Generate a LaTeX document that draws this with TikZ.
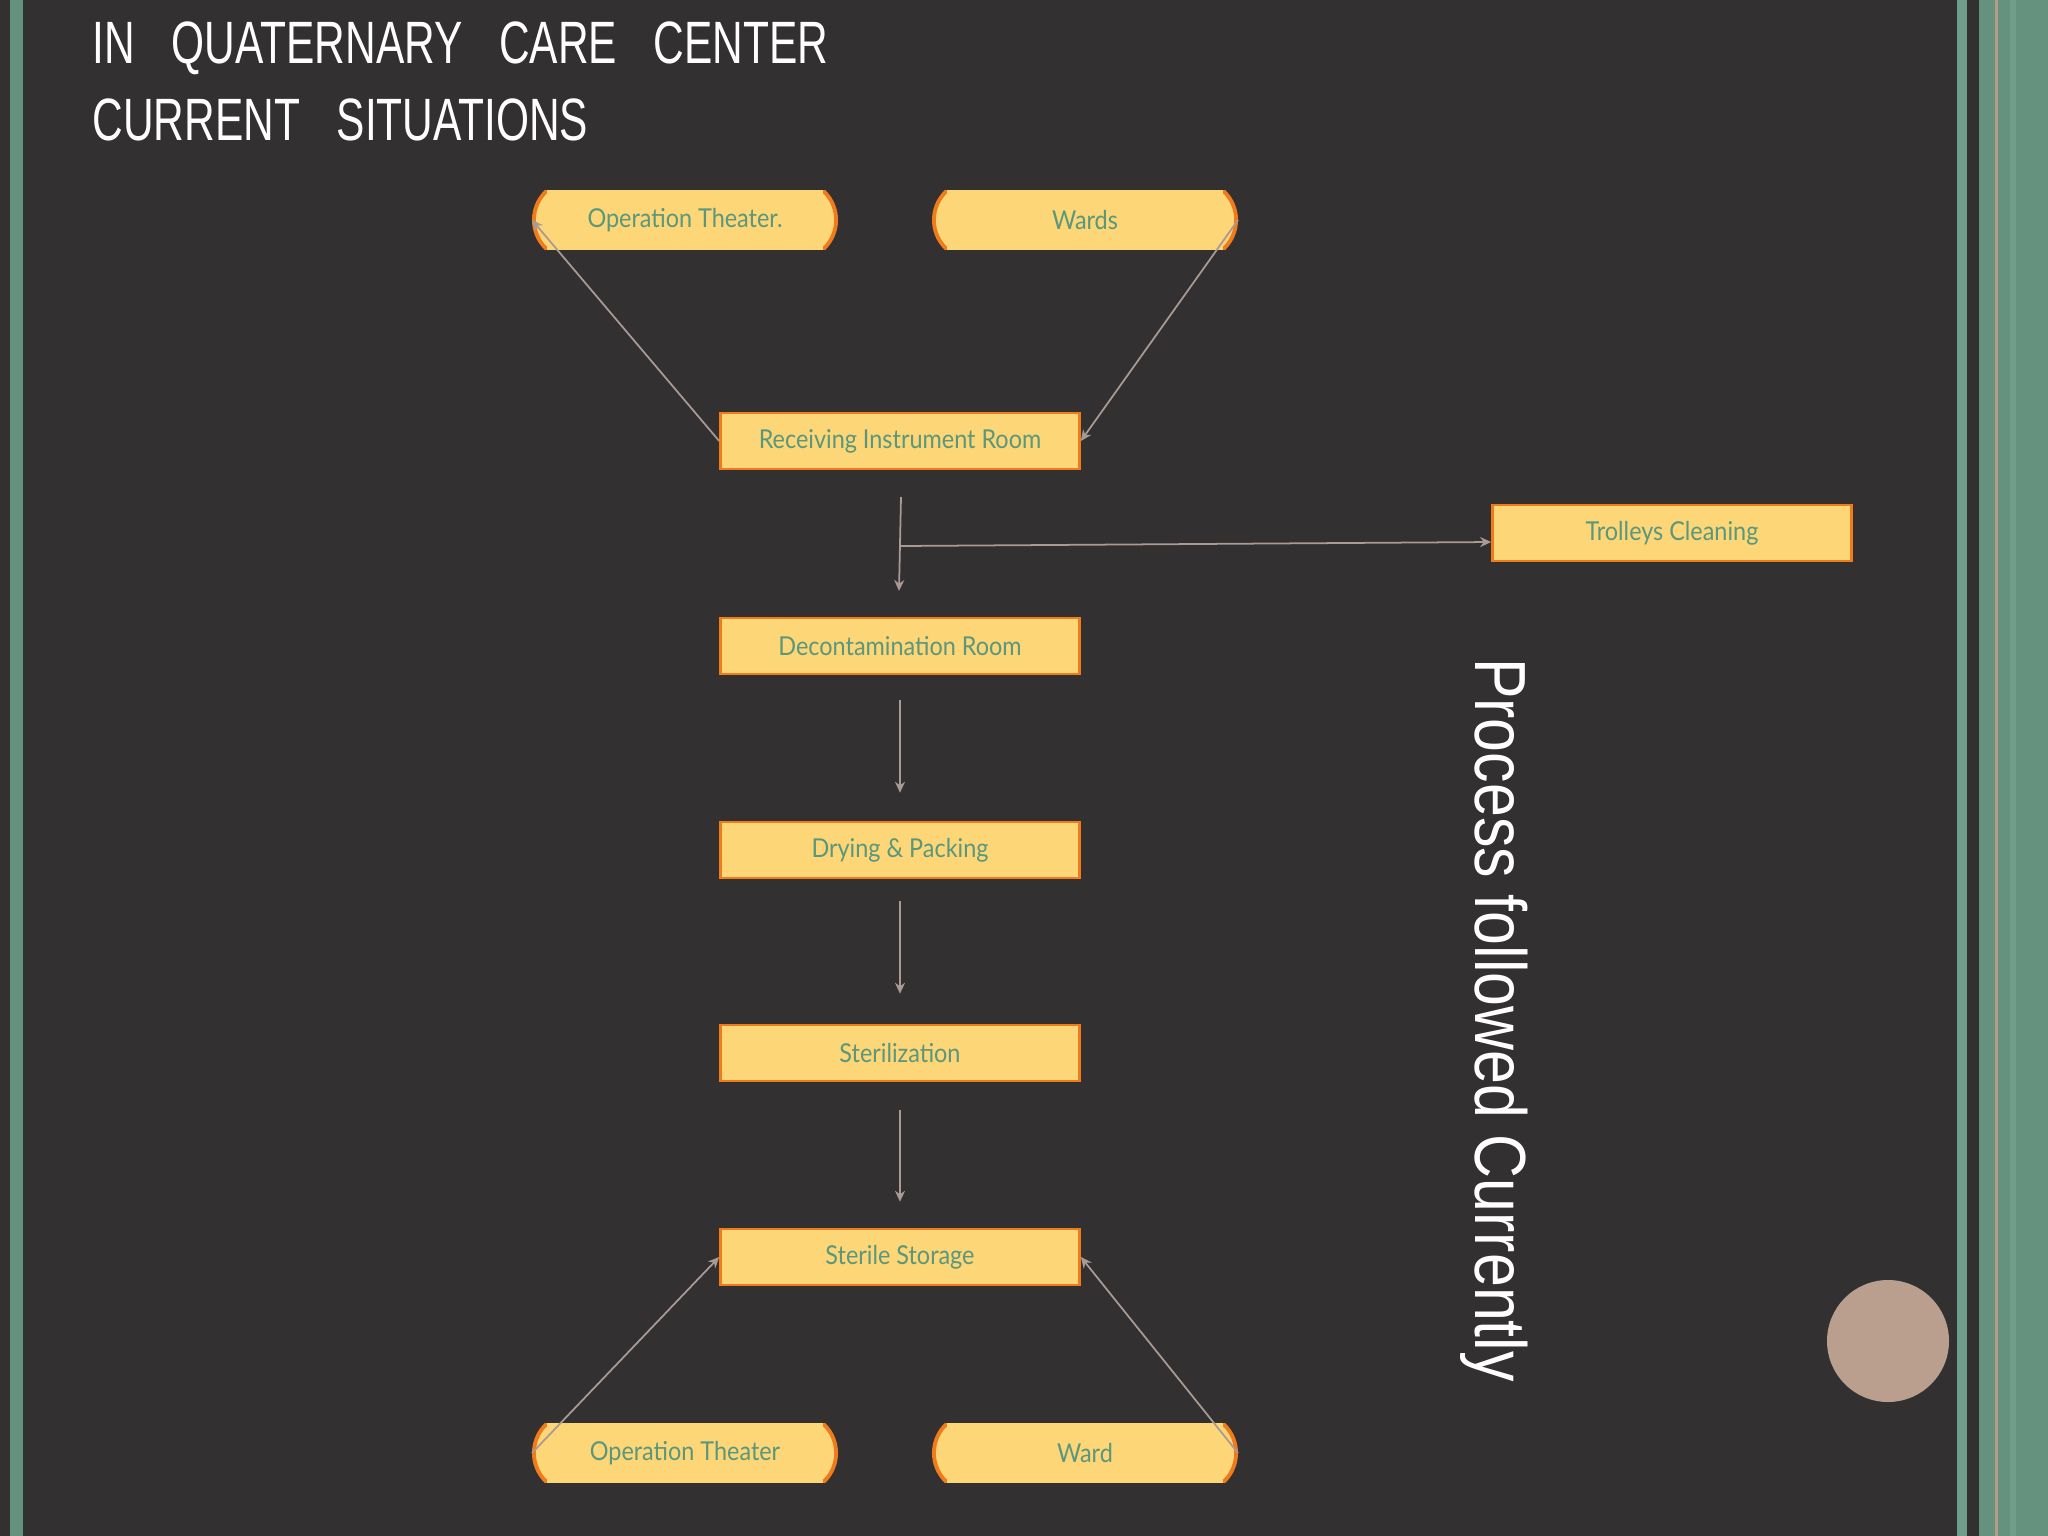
\documentclass[tikz,border=0pt]{standalone}
\usepackage{fontspec}
\setmainfont[FakeStretch=0.9]{Lato}
\newfontfamily\titlefont[FakeStretch=0.71,WordSpace=3.1]{Liberation Sans}
\newfontfamily\sidefont[FakeStretch=0.84]{Liberation Sans}
\usetikzlibrary{arrows.meta,shapes.misc}

\definecolor{bgdark}{HTML}{323031}
\definecolor{sidegreen}{HTML}{64927F}
\definecolor{lightgreen}{HTML}{6E9D8A}
\definecolor{stripetan}{HTML}{B89C88}
\definecolor{nodeyellow}{HTML}{FDD677}
\definecolor{nodeorange}{HTML}{EF7B1D}
\definecolor{textgreen}{HTML}{5A977C}
\definecolor{flowgrey}{HTML}{A99A94}
\definecolor{dotpink}{HTML}{BA9F8F}

\tikzset{
  roombox/.style={rectangle, fill=nodeyellow, draw=nodeorange, line width=0.7pt,
    minimum width=3.59cm, minimum height=0.56cm, inner sep=0pt,
    text=textgreen, font=\fontsize{7.4}{9}\selectfont},
  pillbox/.style={rounded rectangle, rounded rectangle arc length=90,
    fill=nodeyellow, draw=nodeorange, line width=1.1pt,
    minimum width=3.02cm, minimum height=0.56cm, inner sep=0pt,
    text=textgreen, font=\fontsize{7.4}{9}\selectfont},
  pillcap/.style={draw=nodeyellow, line width=1.25pt},
  flow/.style={draw=flowgrey, line width=0.5pt, -{Stealth[length=1.1mm,width=1mm]}},
  titletext/.style={text=white, inner sep=0pt, anchor=base west,
    font=\titlefont\fontsize{17}{20}\selectfont}
}

\begin{document}
\begin{tikzpicture}[x=0.01cm, y=-0.01cm]
    % fond et bandes
    \fill [bgdark] (0,0) rectangle (2048,1536);
    \useasboundingbox (0,0) rectangle (2048,1536);
    \fill [sidegreen] (10,0) rectangle (23,1536);
    \fill [lightgreen] (1957,0) rectangle (1967,1536);
    \fill [sidegreen] (1979,0) rectangle (2048,1536);
    \fill [stripetan] (1995,0) rectangle (1998,1536);
    \fill [lightgreen] (2010,0) rectangle (2016,1536);
    \fill [dotpink] (1888,1341) circle (61);

    % Titre
    \node [titletext] (title1) at (92,63) {IN QUATERNARY CARE CENTER};
    \node [titletext] (title2) at (92,140) {CURRENT SITUATIONS};

    % Sources (haut)
    \node [pillbox] (ot) at (685,220) {Operation Theater.};
    \node [pillbox] (wards) at (1085,220) {Wards};

    % Salles (centre)
    \node [roombox] (recv) at (900,441) {Receiving Instrument Room};
    \node [roombox] (trolley) at (1672,533) {Trolleys Cleaning};
    \node [roombox] (decon) at (900,646) {Decontamination Room};
    \node [roombox] (dry) at (900,850) {Drying \& Packing};
    \node [roombox] (steril) at (900,1053) {Sterilization};
    \node [roombox] (store) at (900,1257) {Sterile Storage};

    % Destinations (bas)
    \node [pillbox] (ot2) at (685,1453) {Operation Theater};
    \node [pillbox] (ward2) at (1085,1453) {Ward};

    % bords droits sans trait
    \foreach \p in {ot,wards,ot2,ward2}
        \draw [pillcap] ([xshift=-1.38cm,yshift=-0.55pt]\p.north) -- ([xshift=1.38cm,yshift=-0.55pt]\p.north)
                        ([xshift=-1.38cm,yshift=0.55pt]\p.south) -- ([xshift=1.38cm,yshift=0.55pt]\p.south);

    % Titre vertical
    \node [rotate=-90, text=white, font=\sidefont\fontsize{20.6}{24}\selectfont]
        (side) at (1494,1020) {Process followed Currently};

    % Flux
    \coordinate (recvout) at (901,497);
    \coordinate (split) at (901,546);
    \coordinate (deconin) at (899,591);
    \draw [flow] (recv.west) -- (ot.west);
    \draw [flow] (wards.east) -- (recv.east);
    \draw [flow] (recvout) -- (deconin);
    \draw [flow] (split) -- ([yshift=-0.09cm]trolley.west);
    \draw [flow] ([yshift=-0.25cm]decon.south) -- ([yshift=0.28cm]dry.north);
    \draw [flow] ([yshift=-0.22cm]dry.south) -- ([yshift=0.3cm]steril.north);
    \draw [flow] ([yshift=-0.28cm]steril.south) -- ([yshift=0.26cm]store.north);
    \draw [flow] (ot2.west) -- (store.west);
    \draw [flow, {Stealth[length=1.1mm,width=1mm]}-] (store.east) -- (ward2.east);
\end{tikzpicture}
\end{document}
